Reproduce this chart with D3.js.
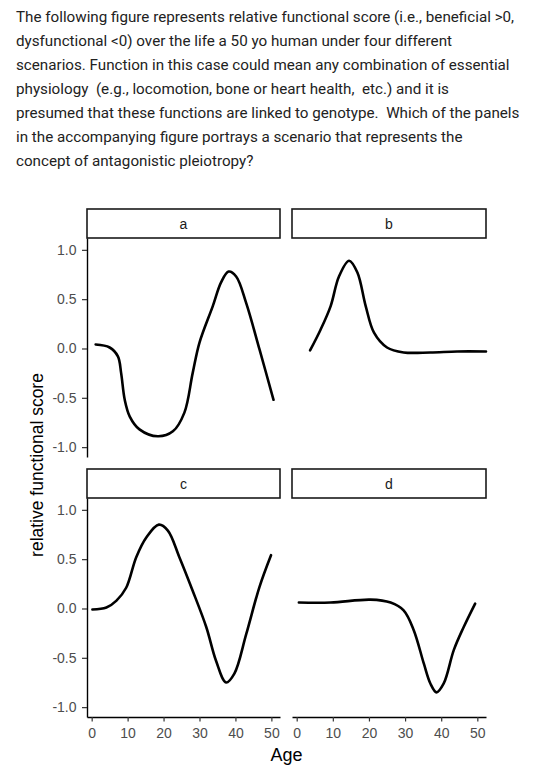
<!DOCTYPE html>
<html><head><meta charset="utf-8">
<script src="https://cdn.jsdelivr.net/npm/d3@7"></script>
<style>body{margin:0;background:#fff}</style>
</head><body><svg id="c" width="547" height="775"></svg>
<script>
const questionLines = [
  "The following figure represents relative functional score (i.e., beneficial >0,",
  "dysfunctional <0) over the life a 50 yo human under four different",
  "scenarios. Function in this case could mean any combination of essential",
  "physiology  (e.g., locomotion, bone or heart health,  etc.) and it is",
  "presumed that these functions are linked to genotype.  Which of the panels",
  "in the accompanying figure portrays a scenario that represents the",
  "concept of antagonistic pleiotropy?"
];
const panelNames = ["a", "b", "c", "d"];
const ageA   = [1.1, 5, 7.3, 8.2, 9.2, 10.6, 13.3, 18.4, 22.6, 25.8, 28.1, 30, 33.7, 36, 38.1, 40.2, 43, 46.7, 50.6];
const scoreA = [0.04, 0.01, -0.08, -0.25, -0.52, -0.69, -0.82, -0.89, -0.84, -0.65, -0.25, 0.06, 0.43, 0.67, 0.78, 0.73, 0.46, -0.01, -0.52];
const ageB   = [3.7, 6.6, 9.4, 11.7, 14.5, 16.8, 19.1, 21.4, 25, 29.6, 37, 44.4, 52.4];
const scoreB = [-0.02, 0.19, 0.43, 0.73, 0.89, 0.77, 0.43, 0.16, 0.01, -0.04, -0.04, -0.03, -0.03];
const ageC   = [0.2, 4.1, 6.9, 9.6, 12.4, 15.2, 18.7, 21.2, 24.4, 28.1, 31.9, 34.6, 37.4, 39.7, 43, 46.7, 49.9];
const scoreC = [-0.01, 0.01, 0.08, 0.21, 0.52, 0.72, 0.85, 0.79, 0.52, 0.18, -0.19, -0.53, -0.75, -0.66, -0.26, 0.22, 0.54];
const ageD   = [0.6, 9.4, 20.4, 26, 29.6, 32.4, 35.2, 37, 38.7, 40.7, 43.5, 46.2, 49.4];
const scoreD = [0.06, 0.06, 0.09, 0.06, -0.02, -0.22, -0.56, -0.76, -0.85, -0.76, -0.42, -0.19, 0.05];
const xTicks = [0, 10, 20, 30, 40, 50];
const yTicks = [-1.0, -0.5, 0.0, 0.5, 1.0];
const xLabel = "Age";
const yLabel = "relative functional score";

const svg = d3.select("#c");

// question text
const qt = svg.append("text")
  .attr("font-family", "Roboto, 'Noto Sans', sans-serif")
  .attr("font-size", 15.2)
  .attr("fill", "#222")
  .style("white-space", "pre");
questionLines.forEach((l, i) => {
  qt.append("tspan").attr("x", 16).attr("y", 22 + i * 24).text(l);
});

const series = [
  {name: panelNames[0], age: ageA, score: scoreA, col: 0, row: 0},
  {name: panelNames[1], age: ageB, score: scoreB, col: 1, row: 0},
  {name: panelNames[2], age: ageC, score: scoreC, col: 0, row: 1},
  {name: panelNames[3], age: ageD, score: scoreD, col: 1, row: 1}
];
const cols = [[87, 280], [292, 486]];
const rows = [{strip: 209, top: 238, bottom: 457}, {strip: 469, top: 498, bottom: 717}];
const fontF = "'Liberation Sans', Arial, Helvetica, sans-serif";

series.forEach(s => {
  const [x0, x1] = cols[s.col];
  const r = rows[s.row];
  const x = d3.scaleLinear().domain([-1.3, 52.4]).range([x0, x1]);
  const y = d3.scaleLinear().domain([-1.1, 1.12]).range([r.bottom, r.top]);
  const g = svg.append("g");

  // strip
  g.append("rect").attr("x", x0).attr("y", r.strip).attr("width", x1 - x0).attr("height", r.top - r.strip)
    .attr("fill", "#fff").attr("stroke", "#1a1a1a").attr("stroke-width", 1.6);
  g.append("text").attr("x", (x0 + x1) / 2).attr("y", (r.strip + r.top) / 2 + 5)
    .attr("text-anchor", "middle").attr("font-family", fontF).attr("font-size", 14)
    .attr("fill", "#1a1a1a").text(s.name);

  // axes
  if (s.col === 0) {
    const ya = g.append("g").attr("transform", `translate(${x0},0)`)
      .call(d3.axisLeft(y).tickValues(yTicks).tickFormat(d => d.toFixed(1)).tickSize(5).tickSizeOuter(0).tickPadding(5.5));
    ya.select(".domain").attr("stroke", "#000").attr("stroke-width", 1.4);
    ya.selectAll(".tick line").attr("stroke", "#333").attr("stroke-width", 1.2);
    ya.selectAll(".tick text").attr("font-family", fontF).attr("font-size", 14).attr("fill", "#4d4d4d");
  }
  if (s.row === 1) {
    const xa = g.append("g").attr("transform", `translate(0,${r.bottom})`)
      .call(d3.axisBottom(x).tickValues(xTicks).tickFormat(d3.format("d")).tickSize(4.5).tickSizeOuter(0).tickPadding(6.5));
    xa.select(".domain").attr("stroke", "#000").attr("stroke-width", 1.4);
    xa.selectAll(".tick line").attr("stroke", "#333").attr("stroke-width", 1.2);
    xa.selectAll(".tick text").attr("font-family", fontF).attr("font-size", 14).attr("fill", "#4d4d4d");
  }

  // curve
  const pts = s.age.map((a, i) => [a, s.score[i]]);
  g.append("path").datum(pts)
    .attr("fill", "none").attr("stroke", "#000").attr("stroke-width", 2.6)
    .attr("stroke-linecap", "round").attr("stroke-linejoin", "round")
    .attr("d", d3.line().x(d => x(d[0])).y(d => y(d[1])).curve(d3.curveCatmullRom.alpha(0.5)));
});

// axis titles
svg.append("text").attr("x", 286.5).attr("y", 761).attr("text-anchor", "middle")
  .attr("font-family", fontF).attr("font-size", 18).attr("fill", "#000").text(xLabel);
svg.append("text").attr("transform", "translate(43,465) rotate(-90)").attr("text-anchor", "middle")
  .attr("font-family", fontF).attr("font-size", 17.5).attr("fill", "#000").text(yLabel);
</script>
</body></html>
